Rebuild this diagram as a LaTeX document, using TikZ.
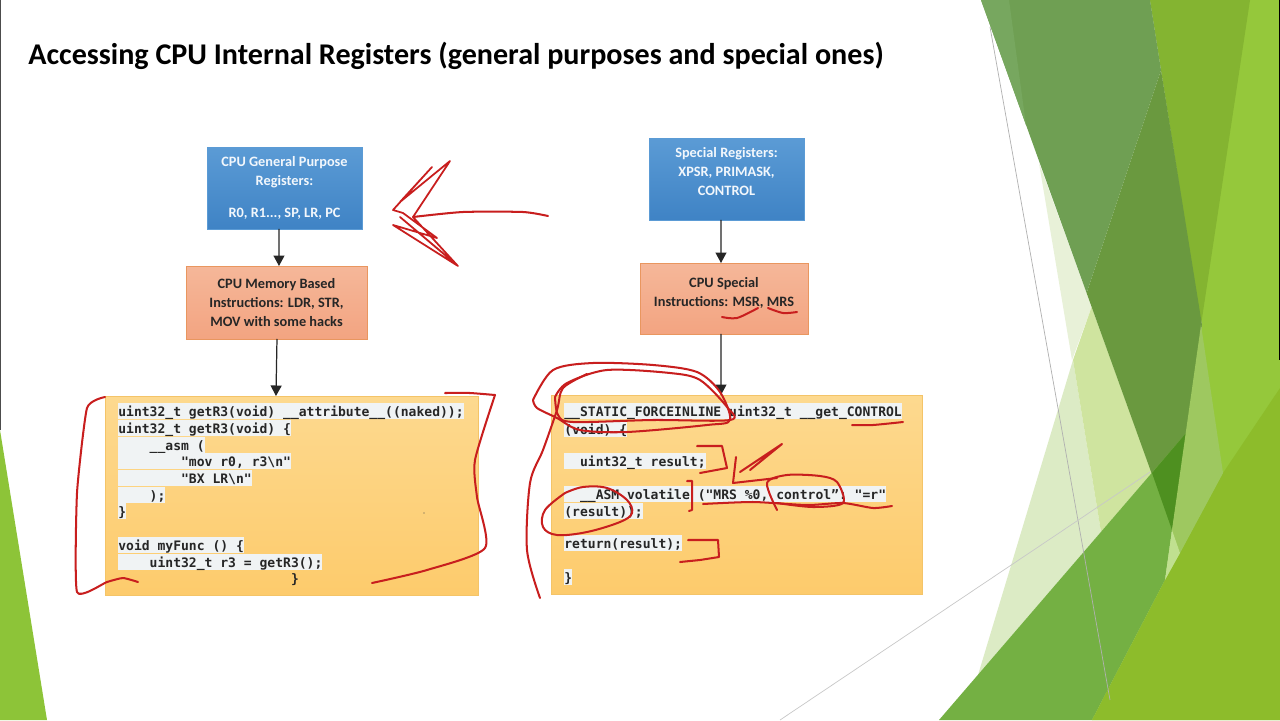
\documentclass[tikz,border=0pt]{standalone}
\usepackage{fontspec}
\setmainfont{Carlito}
\setmonofont{DejaVu Sans Mono}
\usetikzlibrary{arrows.meta}

\definecolor{rouge}{HTML}{C81E1E}
\definecolor{fondcode}{HTML}{F0F3F4}
\definecolor{bleuA}{HTML}{5B9BD5}
\definecolor{bleuB}{HTML}{3F83C5}
\definecolor{orangeA}{HTML}{F5B799}
\definecolor{orangeB}{HTML}{F3A481}
\definecolor{orangeC}{HTML}{E9965F}
\definecolor{codeA}{HTML}{FDD98F}
\definecolor{codeB}{HTML}{FDCB6C}
\definecolor{codeC}{HTML}{F4C468}

\tikzset{
  bleu/.style={anchor=north west,outer sep=0pt,inner sep=2pt,align=center,draw=bleuA,line width=0.3pt,
    top color=bleuA,bottom color=bleuB,text=white!92!bleuA,font=\bfseries\fontsize{8.15}{10.9}\selectfont},
  orange/.style={anchor=north west,outer sep=0pt,inner sep=2pt,align=center,draw=orangeC,line width=0.4pt,
    top color=orangeA,bottom color=orangeB,text=black!85,font=\bfseries\fontsize{8.15}{10.9}\selectfont},
  boite/.style={anchor=north west,outer sep=0pt,draw=codeC,line width=0.4pt,
    top color=codeA,bottom color=codeB},
  ligne/.style={anchor=west,fill=fondcode,inner xsep=0pt,inner ysep=0pt,text height=0.275cm,text depth=0.06cm,
    text=black!85,font=\ttfamily\bfseries\fontsize{7.42}{9}\selectfont},
  fleche/.style={line width=0.7pt,draw=black!85,-{Triangle[length=0.21cm,width=0.22cm]}},
  trait/.style={draw=rouge,line width=1.15pt,line join=round,line cap=round},
}

\begin{document}
\begin{tikzpicture}[x=0.02cm,y=-0.02cm]
  \useasboundingbox (0,0) rectangle (1280,720);
  \fill[white] (0,0) rectangle (1280,720);

  % FORMES VERTES DROITE
  \fill[color={rgb,255:red,149;green,200;blue,59}] (1150,0)--(1280,0)--(1280,720)--(1092,720)--(1165,580)--(1172,530)--(1202,325)--cycle;
  \fill[color={rgb,255:red,232;green,241;blue,216}] (1039,163)--(1091.6,307)--(1072,360)--cycle;
  \fill[color={rgb,255:red,220;green,235;blue,197}] (1073,360)--(978,675)--(1101,532)--cycle;
  \fill[color={rgb,255:red,207;green,228;blue,159}] (1073,360)--(1091.6,307)--(1152,473)--(1101,532)--cycle;
  \fill[color={rgb,255:red,132;green,180;blue,49}] (1150,0)--(1250,0)--(1201,325)--cycle;
  \fill[color={rgb,255:red,111;green,159;blue,83}] (981,0)--(1150,0)--(1161,70)--(1086.6,293)--cycle;
  \fill[color={rgb,255:red,119;green,167;blue,95}] (981,0)--(1009,0)--(1026,125)--cycle;
  \fill[color={rgb,255:red,106;green,153;blue,63}] (1161,70)--(1202,325)--(1172,530)--(1086.6,293)--cycle;
  \fill[color={rgb,255:red,116;green,176;blue,67}] (939,720)--(1187,432)--(1172,530)--(1165,580)--(1092,720)--cycle;
  \fill[color={rgb,255:red,78;green,144;blue,32}] (1187,432)--(1172,530)--(1152,473)--cycle;
  \fill[color={rgb,255:red,141;green,188;blue,43}] (1092,720)--(1165,580)--(1180,553)--(1223,473)--(1280,388)--(1280,720)--cycle;
  \fill[color={rgb,255:red,158;green,200;blue,96}] (1201,325)--(1223,473)--(1180,553)--(1172,530)--cycle;
  \fill[color={rgb,255:red,192;green,224;blue,144}] (1172,530)--(1180,553)--(1165,580)--cycle;

  % TRAITS FINS
  \draw[color={rgb,255:red,176;green,176;blue,176},line width=0.4pt] (990,27)--(1110,700);
  \draw[color={rgb,255:red,200;green,200;blue,200},line width=0.4pt] (780,720)--(1150,472);

  % BANDE GAUCHE ET BORDS
  \fill[color={rgb,255:red,141;green,196;blue,56}] (0,430)--(47,720)--(0,720)--cycle;
  \draw[black!70,line width=0.5pt] (0.5,0)--(0.5,430);
  \draw[black,line width=0.5pt] (1279.5,0)--(1279.5,360);

  % TITRE
  \node[anchor=west,inner sep=0pt,font=\bfseries\fontsize{17.13}{20}\selectfont] (T) at (28,55.5) {Accessing CPU Internal Registers (general purposes and special ones)};

  % BOITES GAUCHE
  \node[bleu,minimum width=3.1cm,minimum height=1.64cm] (BL) at (207,147) {CPU General Purpose\\Registers:\\[7pt]R0, R1..., SP, LR, PC};
  \node[orange,minimum width=3.62cm,minimum height=1.46cm] (OL) at (186,266) {CPU Memory Based\\Instructions: LDR, STR,\\MOV with some hacks};
  \node[boite,minimum width=7.46cm,minimum height=3.98cm] (CL) at (105,396) {};

  % BOITES DROITE
  \node[bleu,minimum width=3.1cm,minimum height=1.64cm] (BR) at (649,138) {Special Registers:\\XPSR, PRIMASK,\\CONTROL\\[-2pt]\mbox{}};
  \node[orange,minimum width=3.36cm,minimum height=1.42cm] (OR) at (640,263) {CPU Special\\Instructions: MSR, MRS\\[-3pt]\mbox{}};
  \node[boite,minimum width=7.42cm,minimum height=3.98cm] (CR) at (551,395) {};

  % FLECHES
  \draw[fleche] ([xshift=-0.11cm]BL.south) -- ([xshift=0.05cm]OL.north);
  \draw[fleche] ([xshift=0.01cm]OL.south) -- ([xshift=-0.31cm]CL.north);
  \draw[fleche] ([xshift=-0.11cm]BR.south) -- ([xshift=-0.06cm]OR.north);
  \draw[fleche] ([xshift=-0.06cm]OR.south) -- ([xshift=-0.31cm]CR.north);

  % CODE GAUCHE
  \node[ligne] (L1) at (118,411) {uint32\_t getR3(void) \_\_attribute\_\_((naked));};
  \node[ligne] (L2) at (118,428) {uint32\_t getR3(void) \{};
  \node[ligne] (L3) at (118,445) {\phantom{xxxx}\_\_asm (};
  \node[ligne] (L4) at (118,461) {\phantom{xxxxxxxx}"mov r0, r3\textbackslash n"};
  \node[ligne] (L5) at (118,478) {\phantom{xxxxxxxx}"BX LR\textbackslash n"};
  \node[ligne] (L6) at (118,495) {\phantom{xxxx});};
  \node[ligne] (L7) at (118,511) {\}};
  \node[ligne] (L8) at (118,545) {void myFunc () \{};
  \node[ligne] (L9) at (118,562) {\phantom{xxxx}uint32\_t r3 = getR3();};
  \node[ligne,fill=none] (L10) at (118,578) {\phantom{xxxxxxxxxxxxxxxxxxxxxx}\}};

  % CODE DROITE
  \node[ligne] (R1) at (564,411) {\_\_STATIC\_FORCEINLINE uint32\_t \_\_get\_CONTROL};
  \node[ligne] (R2) at (564,429) {(void) \{};
  \node[ligne] (R3) at (564,461) {\phantom{xx}uint32\_t result;};
  \node[ligne] (R4) at (564,494) {\phantom{xx}\_\_ASM volatile ("MRS \%0, control”: "=r"};
  \node[ligne] (R5) at (564,511) {(result));};
  \node[ligne] (R6) at (564,543) {return(result);};
  \node[ligne] (R7) at (564,577) {\}};

  % POINT
  \fill[black!70] (424,513) circle (0.7);

  % GRIBOUILLIS GAUCHE
  \draw[trait] plot[smooth,tension=.3] coordinates {(105,397) (87,408) (77,493) (77,592) (107,582) (123,578) (138,582)};
  \draw[trait] plot[smooth,tension=.3] coordinates {(445,393) (470,393) (495,395)};
  \draw[trait] plot[smooth,tension=.4] coordinates {(495,395) (475,460) (477,497) (485,548) (427,570) (372,583)};

  % GRANDE FLECHE ROUGE
  \draw[trait] plot[smooth,tension=.4] coordinates {(548,216) (523,212) (463,212) (413,217)};
  \draw[trait,line width=1pt] (413,217)--(450,161)--(400,202)--(432,167)--(393,210)--(403,213)--(437,238)
    --(393,225)--(458,266)--(400,217)--(457,265)--(413,217);

  % SOULIGNES MSR MRS
  \draw[trait] plot[smooth] coordinates {(722,317) (737,318) (758,308)};
  \draw[trait] plot[smooth] coordinates {(768,308) (783,313) (797,312)};

  % GRIBOUILLIS DROITE
  \draw[trait] plot[smooth,tension=.5] coordinates {(540,598) (527,550) (530,483) (543,450) (557,410) (563,388) (587,374)};
  \draw[trait] plot[smooth,tension=.5] coordinates {(533,400) (553,370) (593,363) (653,365) (697,372) (720,392) (730,420) (707,425) (627,432) (580,430) (557,418) (537,408) (533,400)};
  \draw[trait] plot[smooth,tension=.5] coordinates {(555,397) (567,383) (607,370) (670,373) (700,380) (727,407) (730,420) (653,420) (573,422) (558,415) (555,397)};
  \draw[trait] plot[smooth,tension=.4] coordinates {(852,425) (873,425) (903,422)};
  \draw[trait] (697,446)--(722,446)--(727,468)--(700,473);
  \draw[trait] (736,457)--(733,483)--(777,478);
  \draw[trait] (740,472)--(782,444)--(750,470);
  \draw[trait] plot[smooth,tension=.5] coordinates {(777,510) (767,483) (787,475) (820,476) (837,482) (843,503) (813,507) (777,503)};
  \draw[trait] plot[smooth,tension=.4] coordinates {(703,504) (753,502) (807,505) (843,503) (873,508) (892,506)};
  \draw[trait] (687,481)--(692,481)--(692,510)--(689,511);
  \draw[trait] plot[smooth,tension=.6] coordinates {(565,493) (583,487) (607,488) (627,500) (632,513) (620,522) (587,532) (557,535) (543,527) (545,510) (565,493)};
  \draw[trait] (688,540)--(718,540)--(719,557)--(700,560)--(680,562);
\end{tikzpicture}
\end{document}
